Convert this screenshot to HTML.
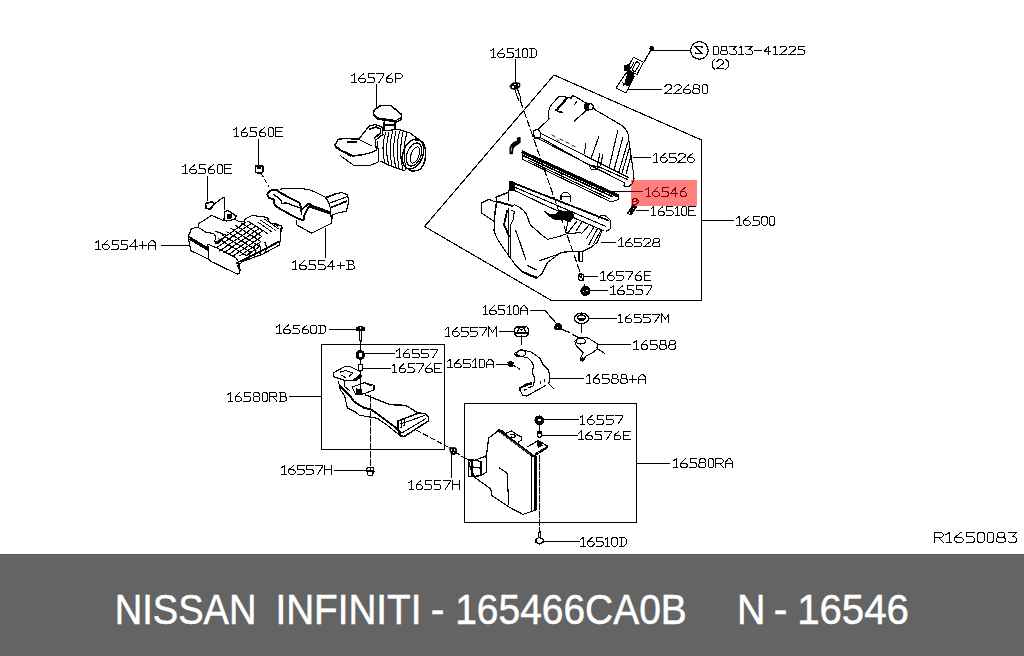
<!DOCTYPE html>
<html><head><meta charset="utf-8"><style>
html,body{margin:0;padding:0;background:#fff;width:1024px;height:656px;overflow:hidden}
svg{position:absolute;left:0;top:0}
#hl{position:absolute;left:631px;top:180px;width:66px;height:26px;background:rgba(255,0,0,0.5)}
  .lb path{vector-effect:non-scaling-stroke}
#bar{position:absolute;left:0;top:554px;width:1024px;height:102px;background:#646464;border-top:1px solid #585858;box-sizing:border-box}
</style></head><body>
<svg width="1024" height="656" viewBox="0 0 1024 656">
<g fill="none" stroke="#000" stroke-width="1.2" shape-rendering="crispEdges">
<path d="M554 75 L701.5 140" stroke-width="1.15"/>
<path d="M424.5 226.5 L554 75" stroke-width="1.15"/>
<path d="M424.5 226.5 L551.5 300.5" stroke-width="1.15"/>
<g shape-rendering="crispEdges" stroke-width="1">
<path d="M701.5 140 V300.5 H551"/>
<rect x="321.5" y="344.5" width="123" height="105"/>
<rect x="464.5" y="403.5" width="172" height="119"/>
<path d="M515.5 59 V84"/>
<path d="M651 50.5 H690"/>
<path d="M627 89.5 H662"/>
<path d="M376.5 84 V108"/>
<path d="M258.5 139 V165"/>
<path d="M207.5 176 V201"/>
<path d="M160.5 245.5 H190"/>
<path d="M325.5 228 V258"/>
<path d="M633 157.5 H651"/>
<path d="M600 191.5 H643"/>
<path d="M636 210.5 H649"/>
<path d="M702 220.5 H734"/>
<path d="M601 242.5 H616"/>
<path d="M583 276.5 H598"/>
<path d="M589 290.5 H608"/>
<path d="M530 310.5 H545"/>
<path d="M588 318.5 H617"/>
<path d="M499 331.5 H515"/>
<path d="M597 344.5 H631"/>
<path d="M496 364.5 H509"/>
<path d="M549 378.5 H584"/>
<path d="M329 329.5 H357"/>
<path d="M364 353.5 H395"/>
<path d="M362 368.5 H391"/>
<path d="M289 396.5 H321"/>
<path d="M543 419.5 H579"/>
<path d="M541 435.5 H578"/>
<path d="M636.5 463.5 H670"/>
<path d="M334 470.5 H366"/>
<path d="M451.5 453 V478"/>
<path d="M543 541.5 H580"/>
</g>
<path d="M545 310.5 L556 323"/>
<circle cx="699.4" cy="50.4" r="8.8" stroke-width="1.2"/>
<path d="M702 48.2 L702 46.8 L695.5 46.8 L702 53.6 L695.5 53.6 L695.5 52.2" stroke-width="1.1"/>

</g>
<g fill="none" stroke="#000" stroke-width="1.1" stroke-linejoin="round" stroke-linecap="round" shape-rendering="crispEdges">
<!-- ===== 22680 MAF sensor ===== -->
<circle cx="651.7" cy="48.3" r="1.8" fill="#000"/>
<path d="M651 50 L644.3 61.5" stroke-width="1.2"/>
<path d="M633.4 57.2 L643.4 62.2 L637 74.6 L627 69.1 Z" stroke-width="1.1"/>
<path d="M636.5 61.5 L640 63.5 L635 72 L632 70 Z M634 62 L630.5 68.5" stroke-width="1"/>
<path d="M626 72.8 L634.3 76.4 L626 92.9 L616 87.9 Z" stroke-width="1.1"/>
<path d="M624 66 L628.5 64.5 L630 68.5 L627.5 71 L624.5 70 Z" fill="#000"/>
<path d="M628.5 71 L634 73.5 L629 86 L624.5 84.5 Z" fill="#000"/>
<path d="M622 82 Q624 83.5 623.5 85.5" stroke-width="1.2"/>
<!-- ===== 16510D top bolt + dashed axis ===== -->
<path d="M510 86 L512 83.3 L515.5 82.3 L519.8 83.2 L519.8 87 L517 88.8 L514 89.6 L511 88.5 Z" fill="#000" stroke-width="0.8"/>
<rect x="512" y="85.5" width="1.6" height="2" fill="#fff" stroke="none"/>
<rect x="513.5" y="83.8" width="2" height="1.2" fill="#fff" stroke="none"/>
<rect x="517.6" y="84.3" width="1.2" height="2" fill="#fff" stroke="none"/>
<path d="M514.8 89.5 L518.6 100.5 M517.6 89 L520.5 97.5 L520.8 100.5" stroke-width="1.2"/>
<path d="M520.5 101 L584.5 285" stroke-dasharray="7 3.2" stroke-width="1.1"/>
<!-- ===== 16526 upper cover ===== -->
<path d="M548.6 118.5 L548.6 111.6 Q549.5 107 551.5 104.5 L558.7 97 L564.4 96.2 L566.5 97.7 L571.5 98 L572.3 95.5 L576.6 97.3 L580.1 99.5 L585.9 103.4" stroke-width="1.15"/>
<path d="M557.2 109.5 L566.5 98.7" stroke-width="2.2"/>
<path d="M556 110 L558 111.5 L562 112.3" stroke-width="1.6"/>
<path d="M577 100.9 L574.6 104.5" stroke-width="1.1"/>
<path d="M584 106 L586 103 L591 103.3 L593.5 106 L592.5 109.5 L587.5 110.2 L584.5 108.5 Z" stroke-width="1.1"/>
<path d="M584.5 104.5 L589 104.5 L588.5 109 L585 108.5 Z" fill="#000"/>
<path d="M593 108 L595 109.5" stroke-width="1.1"/>
<path d="M549.3 118.8 L537.9 129.5" stroke-width="1.15"/>
<path d="M587.3 109.5 L574.4 121" stroke-width="1.15"/>
<path d="M593 108.5 L621.1 125 Q626 128 628 134 L633.9 176.3" stroke-width="1.1"/>
<path d="M540.2 133 L629.1 177.9"/>
<path d="M533.8 136.3 L624.3 182.7"/>
<path d="M533 131 L538 129 L541 133.5 L540 138 L534.5 138 Z"/>
<path d="M541 137.9 L589 165 L598.7 166.7 L627.5 179.5"/>
<path d="M589 165 L591 169 L596 170 L598.7 166.7"/>
<path d="M624.3 182.7 L624 186 L628 187 L632 184 L634 179 L633.9 176.3"/>
<path d="M585.9 143 L584.3 153.8 M598.7 137 L591.5 157 M617.9 130 L609.4 166.6 M622.7 138 L614.2 169.4 M627.5 143 L619 171.6 M629.1 149 L622.2 172.4 M630.7 157 L626 174 M600 153 L597.5 165 M603 154 L600.5 165"/>
<path d="M552 135 L555 136.5 M560 139 L563 140.5 M566 142 L569 143.5 M572 145.5 L575 146.5 M557 140 L559 141" stroke-width="0.9"/>
<!-- clip -->
<path d="M509.8 153.5 L509.6 148 Q510.5 144 515 141.5 L517.5 141.2 L517.2 137.6 L520.3 137.4 L520.5 142.5 L517.5 144.5 Q513 147 512.8 150 L512.6 153.5 Z" fill="#000" stroke-width="0.7"/>
<path d="M511.3 151 L511.6 147.6" stroke="#fff" stroke-width="0.7"/>
<!-- ===== 16546 filter element ===== -->
<path d="M522.1 150.9 L618.4 194.8 L618.4 199.6 L611.1 202 L522.7 159.4 Z"/>
<path d="M522.5 152.5 L617 196" stroke-width="2.4"/>
<path d="M523 155.5 L612 196.5" stroke-width="1.6"/>
<path d="M529 160.5 L610 199" />
<path d="M544 171 L547 168 M560 176 L563 173 M590 190 L593 187 M599 195 L602 192"/>
<!-- ===== 16510E screw ===== -->
<path d="M632.3 199.5 L635.5 198.3 L638.6 200.5 L637.5 203.5 L634 205 L632.3 203.5 Z" stroke-width="1.3"/><path d="M633.5 202 L636.5 201" stroke-width="1"/>
<path d="M633 205 L636.5 207 L631 215 L627.5 213 Z" fill="#000"/>
<rect x="628.6" y="212.3" width="1.4" height="1.4" fill="#fff" stroke="none"/><rect x="632.5" y="207.5" width="1.2" height="1.2" fill="#fff" stroke="none"/>
<!-- ===== 16528 lower box ===== -->
<path d="M509.5 181.2 L514.6 182.5 L514.6 190.8 L509.5 190.8 Z" fill="#000"/>
<path d="M510 181.7 L608.3 220.4" stroke-width="1.8"/>
<path d="M514.6 187.1 L605.9 226.5"/>
<path d="M514.6 190.5 L547.5 206.3 L604 231"/>
<path d="M508.6 190.8 L508.6 200"/>
<path d="M496.1 197.2 L508.4 192.2" stroke-width="1.6"/>
<path d="M497.6 201.6 L512.8 205.9" stroke-width="1.9"/>
<path d="M496.3 197.5 L497 202"/>
<path d="M481.6 203 L488.9 199.4 L496.8 202.3 L494 221.2 L481.6 213.2 Z"/>
<path d="M495.4 204.5 L494 230.6 Q495.5 236 498.3 240.7 L508.4 255.2 L515.7 265.4 L522.9 272.6 L536 278.4 L541.8 274.1 L547.6 262.5 L559.2 253.8 L562 252.1 L582.7 251.5 L591.2 247.2 L597.3 242.3 L602.2 230.1" stroke-width="1.1"/>
<path d="M508.4 208.8 L508.4 256.7 M510.6 224.8 L510.6 257" stroke-width="1.1"/>
<path d="M511.3 210.3 L514.2 211.7 L513.5 219 L510.6 224.8" stroke-width="1.1"/>
<path d="M507 211 L504.1 224.8 L509.2 236.4" stroke-width="1.8"/>
<path d="M514.2 204.5 Q522 208 525.8 213.2 Q528.5 219 530.2 224.8 L541.8 234.9 L547.6 239.3 L559.2 236.4 L566.8 233.8 L580.2 232.6" stroke-width="1.1"/>
<path d="M515.7 230.6 Q521 245 525.8 259.6 M527.3 265.4 L536 269.7" stroke-width="1.1"/>
<path d="M521.5 271.2 L536 277" stroke-width="1.5" stroke-dasharray="1.3 0.9"/>
<path d="M538.9 261 L559.2 253.8" stroke-width="1.1"/>
<path d="M561 199.5 L561 195 L563.5 192.3 L568 192.8 L570.5 195.5 L570.2 201.5 M562 196.5 L569.5 196.5" stroke-width="1.1"/>
<path d="M598.5 218 L601 215.5 L606 216 L610.1 220 L610.1 229 L606 231.3"/>
<path d="M544 211 L550 215 L556 214 L560 210.6 L566 212 L571 211 L574.1 216 L570 221.6 L563 219 L557 220 L552 218 Z" fill="#000"/>
<path d="M568 221.6 L565.6 232.5 M576.6 221.6 L568 232.6 M581.5 223 L576.6 230 M588.8 225.2 L581.5 233.8 M593.7 227.7 L586.4 238.7 M597.3 229 L589 244.5 M601 230.2 L593.7 243.5"/>
<path d="M579 251.5 L579 261.2 L582.7 261.2 L582.7 251.5"/>
<path d="M580.5 273.5 L583.3 275 L583.3 279.5 L580.5 280.7 L578.2 279 L578.2 275 Z" stroke-width="1.1"/><path d="M578.5 275.5 L581 277.5" stroke-width="1.5"/>
<circle cx="585.3" cy="291" r="4.5" fill="#000"/>
<rect x="583" y="290.5" width="1.2" height="1.6" fill="#fff" stroke="none"/><rect x="586.2" y="290" width="1.4" height="1.2" fill="#fff" stroke="none"/>
<!-- ===== 16576P duct ===== -->
<path d="M374 110.1 L381.1 105.3 L390.6 105.3 L401.3 114.3 L401.3 119.6 L396.6 122 L377.6 119 L373.4 114.3 Z" stroke-width="1.5"/>
<path d="M374.5 115 L378.5 118 L396 120.5 L400.5 118" stroke-width="1.2"/>
<path d="M384.1 122 L384.1 129.5 M394.8 122 L394.8 129.5 M385 124.8 L394 124.8" stroke-width="1.4"/>
<path d="M334.8 145.2 L338.3 139.2 L345.5 138.6 L358.5 139.2 L369.2 126.2 L375.2 124.4 L382.3 127.3 L382.9 134.5 L375.2 140.4 L376.4 149.9 L371.6 152.3 L363.3 154.7 L350.2 155.9 L340.7 149.9 Z" stroke-width="1.3"/>
<path d="M370 129 L376 127 L380.5 129 L380.5 133 L374.5 138" stroke-width="1.6"/>
<path d="M358.5 139.2 L372 146 M347 142 L357 142" stroke-width="1.1"/>
<path d="M335.5 147 L341 150.5 L354 156.5" stroke-width="2"/>
<path d="M340.7 155.9 L353.8 165.4 L370.4 165.4 L378.7 161.8" stroke-width="1.1"/>
<path d="M377 141 Q379 152 378.7 161.8" stroke-width="1.1"/>
<!-- bellows -->
<path d="M382.5 131 L392 130 L399 129.5 L410 133 L419 139.5" stroke-width="1.2"/>
<path d="M380 161 L392 166.5 L404 170.5" stroke-width="1.2"/>
<path d="M385.5 133 Q381 148 384.5 162 M389 132 Q384.5 148 388.5 164 M392.5 131.5 Q388 148 392 165.5 M396 131 Q391.5 148 395.5 166.5 M399.5 131.5 Q395 148 399 167.5 M403 132.5 Q398.5 149 402.5 168.5 M406.5 134 Q402 150 406 169.5" stroke-width="1.05"/>
<ellipse cx="413" cy="154" rx="10" ry="15.5" transform="rotate(20 413 154)" stroke-width="1.5"/>
<ellipse cx="414" cy="154.5" rx="7" ry="12" transform="rotate(20 414 154.5)" stroke-width="1.2"/>
<ellipse cx="415" cy="155" rx="4" ry="8.5" transform="rotate(20 415 155)" stroke-width="1"/>
<path d="M416 140 Q424 139 425.5 150 Q426.5 163 420.5 169 Q415.5 172 410 170.5" stroke-width="1.4"/>
<!-- ===== 16560E bolts ===== -->
<path d="M255.5 166 L262.8 166 L262.8 172 L259 173.5 L255.5 172 Z" fill="#fff" stroke-width="1.6"/>
<path d="M257.5 168 L261 168" />
<path d="M261 173.3 L268.9 186.7" stroke-dasharray="4 3"/>
<path d="M205.6 203.5 L212 201.7 L214.5 204 L210 209.2 L206 208 Z" stroke-width="1.6"/>
<path d="M214.5 203.7 L224.1 196.9 L224.8 209.2"/>
<!-- ===== 16554+B ===== -->
<path d="M268.9 192.1 L272.2 189.6 L277.2 190.4 L280.5 192.9 L295.3 200.7 L299.4 202.8 L301.9 209.3 L307.6 204.4 L310.1 203.6" stroke-width="1.9"/>
<path d="M268.9 192.1 L267.3 194.5 L268.9 197.8 L273.9 199.5 L274.7 205.2 L280.5 209.3 L296.1 217.6 L299.4 219.2 L303.5 220 L304.3 215.1 L308.4 207.7 L310.1 206" stroke-width="1.9"/>
<path d="M273.9 194.5 L280.5 199.5 L282.1 203.6 L286.2 202.8 L296.9 206.9 L300.2 207.7 L301.9 214.3" stroke-width="1.3"/>
<path d="M280.5 189.6 Q282 188.3 285.4 188.3 L300.2 188.3 L310.1 190 Q318 193 324.9 197 Q328 200 329 203.6 Q330.5 207 330.7 211.8 L331.5 222.5" stroke-width="1.1"/>
<path d="M325.7 197.8 L336 193.7" stroke-width="1.8"/>
<path d="M310.1 204.6 L329.8 211.8 M310.1 207.1 L329.8 213.7" stroke-width="1.2"/>
<path d="M311 205.8 L329 212.7" stroke-width="1.4" stroke-dasharray="1.3 1"/>
<path d="M296.9 220 L296.9 225 L311.7 233.2 L331.5 223.3 L332.3 215.1 L336 213.5"/>
<path d="M336 193.7 L342 192.5 L347.6 195 L348.8 201.3 L346.3 211.1 L336 213.5 M330 203 L347.5 196.5" stroke-width="1.1"/>
<path d="M331 207.5 L347 201" stroke-width="1.7" stroke-dasharray="1.3 0.9"/>
<!-- ===== 16554+A ===== -->
<path d="M224 220.5 L224.5 212 L228 210.5 L236.2 216 L234.5 219.5 L226 221" stroke-width="1.3"/>
<path d="M227.5 215 L231.5 214.5 L231 218 L228 218.5 Z" fill="#000"/>
<path d="M198.3 227 L198.3 223.9 L211.6 215.3 L222.3 220.1 L226 221 L235 219.5 L238 221 L244 222 L245.4 218.8 L252.3 215.4 L267.3 217.4 L270.1 222.9 L281.1 225.7 L282.4 228.4 L281 231 L279.7 244.9 L261.9 254.5 L242.6 261.4 L239.9 264.1" stroke-width="1.1"/>
<path d="M268 218.5 L269 221.5 M276 223.5 L277.5 226.5 M281.5 228 L280.5 231" stroke-width="1.6"/>
<path d="M189.2 234.6 L191.3 228.7 L197.7 227.1 L206.3 232.4 L213.8 233.5 L215.9 236.7 L214.8 241" stroke-width="1.1"/>
<path d="M188.7 236.5 L207.4 247.8 M188.7 238.8 L207.4 250" stroke-width="1.3"/>
<path d="M189.5 237.6 L207 249" stroke-width="1.4" stroke-dasharray="1.2 0.9"/>
<path d="M188.7 234.6 L188.7 240 L190.8 250.6 L208.4 259.1" stroke-width="1.1"/>
<path d="M207.9 244.2 L208.4 259.1 L210.6 261.2 L237.2 274.1 L239.4 273 L238.8 262.3 L236.2 258 L218 248.4 L207.9 244.2" stroke-width="1.1"/>
<path d="M237 263 L239.5 264 M238 266 L240 270" stroke-width="1.6"/>
<path d="M214.8 241 L218 244 L226.2 235.3 L215.9 231.4" stroke-width="1.2"/>
<clipPath id="gclip"><path d="M214 242 L233 226 L246 221 L257 222 L263 231 L259 249 L247 256 L232 256 L218 251 Z"/></clipPath>
<g stroke-width="1.15" clip-path="url(#gclip)">
<path d="M212 246 L246 222 M215.5 248.5 L251 223.5 M219.5 251 L256 226 M223.5 253 L260 228 M228 255 L264 230 M232.5 256.5 L267 233 M237.5 257.5 L270 235.5 M243 258 L272 238 M248.5 258 L274 241"/>
<path d="M214 236 L252 259 M219 233 L257 256 M224 230 L261 253 M229.5 227.5 L265 250 M235 225 L268 246 M241 222.5 L270 242 M247 220.5 L272 237 M253 219.5 L273 232"/>
</g>
<path d="M258 222 L272 232 M261 220.5 L276 230.5 M265 219.5 L279 229 M255 225 L268 234" stroke-width="1" stroke-dasharray="1.2 1"/>
<path d="M216 243 L222 239" stroke-width="2.2"/>
<path d="M240 261.5 L279.5 241.5" stroke-width="1.9" stroke-dasharray="1.3 0.8"/>
<path d="M248.5 250 Q251 255 249 258.5 M254 247.5 Q256.5 252.5 254.5 256 M259.5 245 Q262 250 260 253.5 M265 242.5 Q267.5 247.5 265.5 251" stroke-width="1.3"/>
<!-- ===== 16560D bolt, nut, grommet (left box) ===== -->
<path d="M356.4 327.5 Q360 325.5 365 327.5 L364 330.5 L357 330.5 Z" fill="#000" stroke-width="1"/>
<circle cx="360.5" cy="328.3" r="1" fill="#fff" stroke="none"/>
<path d="M359.3 331 L359.3 341 M361.5 331 L361.5 341"/>
<path d="M360.4 341 L360.4 350"/>
<circle cx="360.3" cy="355" r="4.3" fill="#000"/>
<rect x="358.5" y="353.3" width="3.6" height="3.4" fill="#fff" stroke="none"/>
<path d="M360.3 359.5 L360.3 364"/>
<rect x="358.3" y="364.2" width="3.9" height="6.3" stroke-width="1.2"/>
<path d="M360.3 370.5 L360.3 389"/>
<!-- ===== 16580RB duct ===== -->
<path d="M333.2 373 L344.8 366.5 L350 366.5 L360.4 371.7 L361 376.8 L355.9 380.7 L343.5 380.1 L333.8 376.8 Z" stroke-width="1.2"/>
<path d="M340.5 372 L345.5 370.5 L353 373 L349.5 376 M342 375.5 L345 377.5" stroke-width="1.1"/>
<path d="M352.5 380.5 L361 376 M355 379 L360.5 374.5" stroke-width="1.6"/>
<path d="M338.4 381.4 L340.3 389.8 L344.5 395.5 L347.4 408 L355.2 411.8 L359.1 415.1 L369.5 417 L377.2 418.3 L385 423.5 L398 433.9 L403.1 436.4" stroke-width="1.1"/>
<path d="M339.7 385.9 L351.3 397.6 L353.9 401.5 L364.3 408 L370.8 409.2 L379.8 415.7 L395.4 427.4 L400.6 432.6" stroke-width="1.9"/>
<path d="M344 380.8 L344 386 L350 391" stroke-width="1"/>
<path d="M352 387.2 L364.3 382.7 L374 385.3 L374 389.8 L364.3 393.7 L355.9 395 Z" stroke-width="1.1"/>
<path d="M356 387.5 L356 394 M367 384 L372 386" stroke-width="1"/>
<circle cx="359.5" cy="391.5" r="2.2" fill="#000"/>
<path d="M365.6 395 L390.2 404.7 L405.7 405.3 L416.1 411.8 L419 413.5" stroke-width="1.3"/>
<path d="M398 420.9 L418.7 413.1 L425 413.5 L428.4 416.5 L428.4 420.9 L404.4 436.4 L400.5 436 L398.5 432 Z" stroke-width="1.5"/>
<path d="M400.5 424 L424.5 415.5 M402 433 L426 418.5" stroke-width="1"/>
<path d="M398.5 421.5 L397.5 428.5 M401.5 419.5 L401 428 M404.5 418.5 L404 426" stroke-width="1.1"/>
<path d="M370.5 396 L370.5 466" stroke-dasharray="5 3"/>
<path d="M416 430 L447 446.5" stroke-dasharray="5 3"/>
<!-- 16557H nut left -->
<path d="M366.6 471 L366.6 469 L368 467.5 L373.5 467.5 L373.5 471 M367.2 471.2 L367.6 474.6 L368.8 475.6 L371.8 475.6 L372.8 474.6 L373.2 471.2" stroke-width="1.2"/><path d="M366.5 471.2 H373.8" stroke-width="1.8"/><path d="M370.4 467.5 V470" stroke-width="1"/>
<!-- 16557H bolt right -->
<path d="M449.5 447.5 L455 447.5 L456.5 448.7 L456.5 452.5 L454.5 454.5 L451.5 454.5 L450 451 Z" fill="#000" stroke-width="0.8"/><rect x="450.6" y="448.5" width="1.8" height="2.2" fill="#fff" stroke="none"/><rect x="453.8" y="449" width="1.6" height="1.6" fill="#fff" stroke="none"/><rect x="452.6" y="452" width="1.4" height="1.4" fill="#fff" stroke="none"/>
<path d="M456.5 453 L459.5 454.5" stroke-width="1.1"/><path d="M461 456 L471 461" stroke-dasharray="3 2"/>
<!-- ===== 16580RA resonator ===== -->
<path d="M486.4 455.8 L488.6 438.1 L496.2 432.3 L498.9 429.6 L503 431 L505.8 434.4" stroke-width="1.2"/>
<path d="M499 430.5 L532.5 455.7" stroke-width="2.8"/>
<path d="M500 432.5 L531 455" stroke="#fff" stroke-width="0.6" stroke-dasharray="1 2"/>
<path d="M506.5 433 L511.3 431 L514 432.7 L518.8 435.8 L521.5 436.5 L521.5 439.9 L518.8 442" stroke-width="1.2"/>
<path d="M510 435 L513 434 L516 436 L513.5 437.5 L511 436.8" stroke-width="1.1"/>
<path d="M527.7 446.7 L538 440.6 L547.6 446.1 L546.9 448.1 L534.6 455.7" stroke-width="1.2"/>
<path d="M535 454 L546.5 447" stroke-width="1" />
<path d="M537 443 L541 442.6 L542 445.5 L538.5 447 Z" fill="#000"/>
<path d="M531.8 455 L531.8 511 M534.6 455.7 L534.6 510.5" stroke-width="1.3"/>
<path d="M532.5 455.7 L536 456 L536 510 L522.9 514.4 L508.5 506.7 L491.9 495.6 L490.8 489 L475.4 477.9 L471 470 L468.7 462.5 L486.4 455.8" stroke-width="1.2"/>
<path d="M499.7 468 L507.4 473.5 L508.5 504.4"/>
<path d="M468.7 459.1 L480.9 461.4 L480.9 475.7 L468.7 476.8 Z M469 466.5 L480 468 M472 460 L472 476" stroke-width="1.2"/>
<path d="M486 456 L486.5 472 L481 475.7"/>
<circle cx="539.4" cy="420.3" r="4.4" fill="#000"/>
<rect x="537.5" y="419.3" width="3.8" height="1.6" fill="#fff" stroke="none"/>
<path d="M539.5 424 L539.5 431"/>
<path d="M537.6 432 L541.2 432 L541.2 436 L539.4 437.8 L537.6 436 Z" stroke-width="1.2"/><path d="M537.8 433 L541 433" stroke-width="1.8"/>
<path d="M539.4 456 L539.4 532" stroke-dasharray="5 3"/>
<path d="M538.3 532 L538.3 538 M540.6 532 L540.6 538"/>
<path d="M536 539 L539.5 537.3 L543.5 539.5 L543 542.5 L539.5 544 L536 542.5 Z" stroke-width="1.3"/>
<!-- ===== brackets ===== -->
<path d="M555.1 325 L558 323.1 L561.6 325.5 L561 329.5 L557 330 L555 328.5 Z" fill="#000"/>
<rect x="556.5" y="327" width="1.6" height="1.4" fill="#fff" stroke="none"/>
<path d="M560.5 329 L566 331 L569 332.4" stroke-width="1.3"/>
<path d="M572 334.2 L579.5 338" stroke-width="1.1"/>
<ellipse cx="581.5" cy="318.3" rx="7.1" ry="5.2" stroke-width="1.3"/>
<path d="M574.8 319.5 Q576 323.5 581.5 323.8 Q587 323.5 588.2 319.5" stroke-width="1.1"/>
<ellipse cx="581.5" cy="317.6" rx="4" ry="2.6" stroke-width="1.3"/>
<path d="M578.5 319 L584.5 319" stroke-width="1.4"/>
<path d="M581.5 324 L581.5 332"/>
<ellipse cx="580.8" cy="341.2" rx="4.5" ry="2.8"/>
<path d="M574.7 341.2 L579.3 337.4 L588.4 338.1 L597.6 344.2 L597.6 348.8 L591.5 353.4 L585.4 356.4 L583.9 360.2 L581.6 360.5 L580.8 357.2 L583.1 352.6 L576.2 345.7 Z" stroke-width="1.1"/>
<circle cx="582.3" cy="359.5" r="1.6" fill="#000"/>
<path d="M597.6 348.8 L604.5 353.4 M596 348 L598 347" />
<path d="M517 326.5 H526 Q528.5 327 528.5 331 Q528.5 335.5 526 336.5 H517 Q514.5 335.5 514.5 331 Q514.5 327 517 326.5 Z" stroke-width="1.2"/>
<path d="M517.5 331.5 L519 328.5 L521.5 330 L524 328.5 L525.5 331.5 M515.5 333 L527.5 333 M517 327.8 H526" stroke-width="1.2"/>
<path d="M521.3 335.5 L521.3 345"/>
<ellipse cx="521.3" cy="353.4" rx="4.5" ry="2.8"/>
<path d="M514.5 353.4 L521.3 349.6 L530.5 351.8 L539.6 357.9 L542.7 364 L548.8 370.1 L549.6 377.8 L548.8 383.9 L553.4 388.4"/>
<path d="M514.5 353.4 Q516 358 522 356.5 L528 358 Q533 362 533.5 367 L532 372 L535 379 L533 386 L528 388"/>
<path d="M519.8 390 L522.9 395.3 L526.7 396.1 L545.7 385.4 M519.8 390 Q521 386 528 383 L532 385"/>
<path d="M520 388 L531 383" stroke-width="2"/>
<path d="M524 391 Q525 389 527 390"/>
<path d="M508 362.5 L511 360.8 L513.3 363 L512.5 366 L509 366 Z" fill="#000" stroke-width="1"/>
<path d="M513 365 L521.3 370.1" stroke-dasharray="3 2"/>
<path d="M540 381 L541 384 M544 379 L545 382" />

</g>
<g class="lb" shape-rendering="crispEdges" fill="none" stroke="#000" stroke-width="1" stroke-linejoin="miter" stroke-linecap="square">
<g transform="translate(491.00 48.80) scale(1.0407 0.9667)"><path transform="translate(0.00 0)" d="M0 2 L2.6 0 V9 M0 9 H4.2"/><path transform="translate(6.40 0)" d="M4.8 0 L0.3 4.4 V7.6 L1.7 9 H5.1 L6.5 7.6 V6 L5 4.5 H0.5"/><path transform="translate(15.10 0)" d="M6.3 0 H0.4 V4 H5.1 L6.5 5.4 V7.7 L5.2 9 H0"/><path transform="translate(23.80 0)" d="M0 2 L2.6 0 V9 M0 9 H4.2"/><path transform="translate(30.20 0)" d="M1.1 0 H3.9 L5 1.3 V7.7 L3.9 9 H1.1 L0 7.7 V1.3 Z"/><path transform="translate(37.40 0)" d="M0 0 H4.6 L6.8 2.2 V6.8 L4.6 9 H0 M1.8 0 V9"/></g>
<g transform="translate(713.30 46.10) scale(1.0434 0.9667)"><path transform="translate(0.00 0)" d="M1.1 0 H3.9 L5 1.3 V7.7 L3.9 9 H1.1 L0 7.7 V1.3 Z"/><path transform="translate(7.20 0)" d="M1.6 0 H4.9 L5.9 1 V3.3 L4.9 4.3 H1.6 L0.6 3.3 V1 Z M1.1 4.3 H5.3 L6.5 5.5 V7.8 L5.3 9 H1.1 L0 7.8 V5.5 Z"/><path transform="translate(15.90 0)" d="M0 0 H6.3 L2.8 4 H5 L6.5 5.5 V7.7 L5.2 9 H1.2 L0 7.8"/><path transform="translate(24.60 0)" d="M0 2 L2.6 0 V9 M0 9 H4.2"/><path transform="translate(31.00 0)" d="M0 0 H6.3 L2.8 4 H5 L6.5 5.5 V7.7 L5.2 9 H1.2 L0 7.8"/><path transform="translate(39.70 0)" d="M0 4.5 H6.6"/><path transform="translate(48.50 0)" d="M4.6 9 V0 L0 6 H6.6"/><path transform="translate(57.30 0)" d="M0 2 L2.6 0 V9 M0 9 H4.2"/><path transform="translate(63.70 0)" d="M0 2 L1.6 0 H4.9 L6.5 1.6 V3.2 L0 9 H6.5"/><path transform="translate(72.40 0)" d="M0 2 L1.6 0 H4.9 L6.5 1.6 V3.2 L0 9 H6.5"/><path transform="translate(81.10 0)" d="M6.3 0 H0.4 V4 H5.1 L6.5 5.4 V7.7 L5.2 9 H0"/></g>
<g transform="translate(664.90 84.80) scale(1.0704 0.9667)"><path transform="translate(0.00 0)" d="M0 2 L1.6 0 H4.9 L6.5 1.6 V3.2 L0 9 H6.5"/><path transform="translate(8.70 0)" d="M0 2 L1.6 0 H4.9 L6.5 1.6 V3.2 L0 9 H6.5"/><path transform="translate(17.40 0)" d="M4.8 0 L0.3 4.4 V7.6 L1.7 9 H5.1 L6.5 7.6 V6 L5 4.5 H0.5"/><path transform="translate(26.10 0)" d="M1.6 0 H4.9 L5.9 1 V3.3 L4.9 4.3 H1.6 L0.6 3.3 V1 Z M1.1 4.3 H5.3 L6.5 5.5 V7.8 L5.3 9 H1.1 L0 7.8 V5.5 Z"/><path transform="translate(34.80 0)" d="M1.1 0 H3.9 L5 1.3 V7.7 L3.9 9 H1.1 L0 7.7 V1.3 Z"/></g>
<g transform="translate(351.80 73.80) scale(1.0542 0.9667)"><path transform="translate(0.00 0)" d="M0 2 L2.6 0 V9 M0 9 H4.2"/><path transform="translate(6.40 0)" d="M4.8 0 L0.3 4.4 V7.6 L1.7 9 H5.1 L6.5 7.6 V6 L5 4.5 H0.5"/><path transform="translate(15.10 0)" d="M6.3 0 H0.4 V4 H5.1 L6.5 5.4 V7.7 L5.2 9 H0"/><path transform="translate(23.80 0)" d="M0 0 H6.5 V1.2 L2 9"/><path transform="translate(32.50 0)" d="M4.8 0 L0.3 4.4 V7.6 L1.7 9 H5.1 L6.5 7.6 V6 L5 4.5 H0.5"/><path transform="translate(41.20 0)" d="M0 9 V0 H5.4 L6.8 1.4 V3.2 L5.4 4.6 H0"/></g>
<g transform="translate(234.00 127.80) scale(1.0541 0.9667)"><path transform="translate(0.00 0)" d="M0 2 L2.6 0 V9 M0 9 H4.2"/><path transform="translate(6.40 0)" d="M4.8 0 L0.3 4.4 V7.6 L1.7 9 H5.1 L6.5 7.6 V6 L5 4.5 H0.5"/><path transform="translate(15.10 0)" d="M6.3 0 H0.4 V4 H5.1 L6.5 5.4 V7.7 L5.2 9 H0"/><path transform="translate(23.80 0)" d="M4.8 0 L0.3 4.4 V7.6 L1.7 9 H5.1 L6.5 7.6 V6 L5 4.5 H0.5"/><path transform="translate(32.50 0)" d="M1.1 0 H3.9 L5 1.3 V7.7 L3.9 9 H1.1 L0 7.7 V1.3 Z"/><path transform="translate(39.70 0)" d="M6.5 0 H0 V9 H6.5 M0 4.3 H5"/></g>
<g transform="translate(182.90 164.80) scale(1.0563 0.9667)"><path transform="translate(0.00 0)" d="M0 2 L2.6 0 V9 M0 9 H4.2"/><path transform="translate(6.40 0)" d="M4.8 0 L0.3 4.4 V7.6 L1.7 9 H5.1 L6.5 7.6 V6 L5 4.5 H0.5"/><path transform="translate(15.10 0)" d="M6.3 0 H0.4 V4 H5.1 L6.5 5.4 V7.7 L5.2 9 H0"/><path transform="translate(23.80 0)" d="M4.8 0 L0.3 4.4 V7.6 L1.7 9 H5.1 L6.5 7.6 V6 L5 4.5 H0.5"/><path transform="translate(32.50 0)" d="M1.1 0 H3.9 L5 1.3 V7.7 L3.9 9 H1.1 L0 7.7 V1.3 Z"/><path transform="translate(39.70 0)" d="M6.5 0 H0 V9 H6.5 M0 4.3 H5"/></g>
<g transform="translate(95.80 240.50) scale(1.0581 0.9667)"><path transform="translate(0.00 0)" d="M0 2 L2.6 0 V9 M0 9 H4.2"/><path transform="translate(6.40 0)" d="M4.8 0 L0.3 4.4 V7.6 L1.7 9 H5.1 L6.5 7.6 V6 L5 4.5 H0.5"/><path transform="translate(15.10 0)" d="M6.3 0 H0.4 V4 H5.1 L6.5 5.4 V7.7 L5.2 9 H0"/><path transform="translate(23.80 0)" d="M6.3 0 H0.4 V4 H5.1 L6.5 5.4 V7.7 L5.2 9 H0"/><path transform="translate(32.50 0)" d="M4.6 9 V0 L0 6 H6.6"/><path transform="translate(41.30 0)" d="M3.25 1.5 V8 M0 4.7 H6.5"/><path transform="translate(50.00 0)" d="M0 9 V3.2 L2.6 0 H4.2 L6.8 3.2 V9 M0 5.2 H6.8"/></g>
<g transform="translate(292.30 260.80) scale(1.0863 0.9667)"><path transform="translate(0.00 0)" d="M0 2 L2.6 0 V9 M0 9 H4.2"/><path transform="translate(6.40 0)" d="M4.8 0 L0.3 4.4 V7.6 L1.7 9 H5.1 L6.5 7.6 V6 L5 4.5 H0.5"/><path transform="translate(15.10 0)" d="M6.3 0 H0.4 V4 H5.1 L6.5 5.4 V7.7 L5.2 9 H0"/><path transform="translate(23.80 0)" d="M6.3 0 H0.4 V4 H5.1 L6.5 5.4 V7.7 L5.2 9 H0"/><path transform="translate(32.50 0)" d="M4.6 9 V0 L0 6 H6.6"/><path transform="translate(41.30 0)" d="M3.25 1.5 V8 M0 4.7 H6.5"/><path transform="translate(50.00 0)" d="M0 0 H5.1 L6.1 1 V3.3 L5.1 4.3 H1.6 M1.6 4.3 H5.6 L6.8 5.5 V7.8 L5.6 9 H0 M1.6 0 V9"/></g>
<g transform="translate(653.60 153.30) scale(1.0436 0.9667)"><path transform="translate(0.00 0)" d="M0 2 L2.6 0 V9 M0 9 H4.2"/><path transform="translate(6.40 0)" d="M4.8 0 L0.3 4.4 V7.6 L1.7 9 H5.1 L6.5 7.6 V6 L5 4.5 H0.5"/><path transform="translate(15.10 0)" d="M6.3 0 H0.4 V4 H5.1 L6.5 5.4 V7.7 L5.2 9 H0"/><path transform="translate(23.80 0)" d="M0 2 L1.6 0 H4.9 L6.5 1.6 V3.2 L0 9 H6.5"/><path transform="translate(32.50 0)" d="M4.8 0 L0.3 4.4 V7.6 L1.7 9 H5.1 L6.5 7.6 V6 L5 4.5 H0.5"/></g>
<g transform="translate(646.00 187.60) scale(1.0409 0.9667)"><path transform="translate(0.00 0)" d="M0 2 L2.6 0 V9 M0 9 H4.2"/><path transform="translate(6.40 0)" d="M4.8 0 L0.3 4.4 V7.6 L1.7 9 H5.1 L6.5 7.6 V6 L5 4.5 H0.5"/><path transform="translate(15.10 0)" d="M6.3 0 H0.4 V4 H5.1 L6.5 5.4 V7.7 L5.2 9 H0"/><path transform="translate(23.80 0)" d="M4.6 9 V0 L0 6 H6.6"/><path transform="translate(32.60 0)" d="M4.8 0 L0.3 4.4 V7.6 L1.7 9 H5.1 L6.5 7.6 V6 L5 4.5 H0.5"/></g>
<g transform="translate(651.30 206.80) scale(1.0068 0.9667)"><path transform="translate(0.00 0)" d="M0 2 L2.6 0 V9 M0 9 H4.2"/><path transform="translate(6.40 0)" d="M4.8 0 L0.3 4.4 V7.6 L1.7 9 H5.1 L6.5 7.6 V6 L5 4.5 H0.5"/><path transform="translate(15.10 0)" d="M6.3 0 H0.4 V4 H5.1 L6.5 5.4 V7.7 L5.2 9 H0"/><path transform="translate(23.80 0)" d="M0 2 L2.6 0 V9 M0 9 H4.2"/><path transform="translate(30.20 0)" d="M1.1 0 H3.9 L5 1.3 V7.7 L3.9 9 H1.1 L0 7.7 V1.3 Z"/><path transform="translate(37.40 0)" d="M6.5 0 H0 V9 H6.5 M0 4.3 H5"/></g>
<g transform="translate(736.70 216.40) scale(1.0556 0.9667)"><path transform="translate(0.00 0)" d="M0 2 L2.6 0 V9 M0 9 H4.2"/><path transform="translate(6.40 0)" d="M4.8 0 L0.3 4.4 V7.6 L1.7 9 H5.1 L6.5 7.6 V6 L5 4.5 H0.5"/><path transform="translate(15.10 0)" d="M6.3 0 H0.4 V4 H5.1 L6.5 5.4 V7.7 L5.2 9 H0"/><path transform="translate(23.80 0)" d="M1.1 0 H3.9 L5 1.3 V7.7 L3.9 9 H1.1 L0 7.7 V1.3 Z"/><path transform="translate(31.00 0)" d="M1.1 0 H3.9 L5 1.3 V7.7 L3.9 9 H1.1 L0 7.7 V1.3 Z"/></g>
<g transform="translate(618.60 238.20) scale(1.0564 0.9667)"><path transform="translate(0.00 0)" d="M0 2 L2.6 0 V9 M0 9 H4.2"/><path transform="translate(6.40 0)" d="M4.8 0 L0.3 4.4 V7.6 L1.7 9 H5.1 L6.5 7.6 V6 L5 4.5 H0.5"/><path transform="translate(15.10 0)" d="M6.3 0 H0.4 V4 H5.1 L6.5 5.4 V7.7 L5.2 9 H0"/><path transform="translate(23.80 0)" d="M0 2 L1.6 0 H4.9 L6.5 1.6 V3.2 L0 9 H6.5"/><path transform="translate(32.50 0)" d="M1.6 0 H4.9 L5.9 1 V3.3 L4.9 4.3 H1.6 L0.6 3.3 V1 Z M1.1 4.3 H5.3 L6.5 5.5 V7.8 L5.3 9 H1.1 L0 7.8 V5.5 Z"/></g>
<g transform="translate(600.60 271.40) scale(1.0545 0.9667)"><path transform="translate(0.00 0)" d="M0 2 L2.6 0 V9 M0 9 H4.2"/><path transform="translate(6.40 0)" d="M4.8 0 L0.3 4.4 V7.6 L1.7 9 H5.1 L6.5 7.6 V6 L5 4.5 H0.5"/><path transform="translate(15.10 0)" d="M6.3 0 H0.4 V4 H5.1 L6.5 5.4 V7.7 L5.2 9 H0"/><path transform="translate(23.80 0)" d="M0 0 H6.5 V1.2 L2 9"/><path transform="translate(32.50 0)" d="M4.8 0 L0.3 4.4 V7.6 L1.7 9 H5.1 L6.5 7.6 V6 L5 4.5 H0.5"/><path transform="translate(41.20 0)" d="M6.5 0 H0 V9 H6.5 M0 4.3 H5"/></g>
<g transform="translate(610.80 285.90) scale(1.0487 0.9667)"><path transform="translate(0.00 0)" d="M0 2 L2.6 0 V9 M0 9 H4.2"/><path transform="translate(6.40 0)" d="M4.8 0 L0.3 4.4 V7.6 L1.7 9 H5.1 L6.5 7.6 V6 L5 4.5 H0.5"/><path transform="translate(15.10 0)" d="M6.3 0 H0.4 V4 H5.1 L6.5 5.4 V7.7 L5.2 9 H0"/><path transform="translate(23.80 0)" d="M6.3 0 H0.4 V4 H5.1 L6.5 5.4 V7.7 L5.2 9 H0"/><path transform="translate(32.50 0)" d="M0 0 H6.5 V1.2 L2 9"/></g>
<g transform="translate(483.20 305.90) scale(1.0000 0.9667)"><path transform="translate(0.00 0)" d="M0 2 L2.6 0 V9 M0 9 H4.2"/><path transform="translate(6.40 0)" d="M4.8 0 L0.3 4.4 V7.6 L1.7 9 H5.1 L6.5 7.6 V6 L5 4.5 H0.5"/><path transform="translate(15.10 0)" d="M6.3 0 H0.4 V4 H5.1 L6.5 5.4 V7.7 L5.2 9 H0"/><path transform="translate(23.80 0)" d="M0 2 L2.6 0 V9 M0 9 H4.2"/><path transform="translate(30.20 0)" d="M1.1 0 H3.9 L5 1.3 V7.7 L3.9 9 H1.1 L0 7.7 V1.3 Z"/><path transform="translate(37.40 0)" d="M0 9 V3.2 L2.6 0 H4.2 L6.8 3.2 V9 M0 5.2 H6.8"/></g>
<g transform="translate(618.20 314.00) scale(1.0583 0.9667)"><path transform="translate(0.00 0)" d="M0 2 L2.6 0 V9 M0 9 H4.2"/><path transform="translate(6.40 0)" d="M4.8 0 L0.3 4.4 V7.6 L1.7 9 H5.1 L6.5 7.6 V6 L5 4.5 H0.5"/><path transform="translate(15.10 0)" d="M6.3 0 H0.4 V4 H5.1 L6.5 5.4 V7.7 L5.2 9 H0"/><path transform="translate(23.80 0)" d="M6.3 0 H0.4 V4 H5.1 L6.5 5.4 V7.7 L5.2 9 H0"/><path transform="translate(32.50 0)" d="M0 0 H6.5 V1.2 L2 9"/><path transform="translate(41.20 0)" d="M0 9 V0 L3.4 5.2 L6.8 0 V9"/></g>
<g transform="translate(445.40 327.40) scale(1.0563 0.9667)"><path transform="translate(0.00 0)" d="M0 2 L2.6 0 V9 M0 9 H4.2"/><path transform="translate(6.40 0)" d="M4.8 0 L0.3 4.4 V7.6 L1.7 9 H5.1 L6.5 7.6 V6 L5 4.5 H0.5"/><path transform="translate(15.10 0)" d="M6.3 0 H0.4 V4 H5.1 L6.5 5.4 V7.7 L5.2 9 H0"/><path transform="translate(23.80 0)" d="M6.3 0 H0.4 V4 H5.1 L6.5 5.4 V7.7 L5.2 9 H0"/><path transform="translate(32.50 0)" d="M0 0 H6.5 V1.2 L2 9"/><path transform="translate(41.20 0)" d="M0 9 V0 L3.4 5.2 L6.8 0 V9"/></g>
<g transform="translate(633.90 340.40) scale(1.0744 0.9667)"><path transform="translate(0.00 0)" d="M0 2 L2.6 0 V9 M0 9 H4.2"/><path transform="translate(6.40 0)" d="M4.8 0 L0.3 4.4 V7.6 L1.7 9 H5.1 L6.5 7.6 V6 L5 4.5 H0.5"/><path transform="translate(15.10 0)" d="M6.3 0 H0.4 V4 H5.1 L6.5 5.4 V7.7 L5.2 9 H0"/><path transform="translate(23.80 0)" d="M1.6 0 H4.9 L5.9 1 V3.3 L4.9 4.3 H1.6 L0.6 3.3 V1 Z M1.1 4.3 H5.3 L6.5 5.5 V7.8 L5.3 9 H1.1 L0 7.8 V5.5 Z"/><path transform="translate(32.50 0)" d="M1.6 0 H4.9 L5.9 1 V3.3 L4.9 4.3 H1.6 L0.6 3.3 V1 Z M1.1 4.3 H5.3 L6.5 5.5 V7.8 L5.3 9 H1.1 L0 7.8 V5.5 Z"/></g>
<g transform="translate(447.80 359.20) scale(1.0385 0.9667)"><path transform="translate(0.00 0)" d="M0 2 L2.6 0 V9 M0 9 H4.2"/><path transform="translate(6.40 0)" d="M4.8 0 L0.3 4.4 V7.6 L1.7 9 H5.1 L6.5 7.6 V6 L5 4.5 H0.5"/><path transform="translate(15.10 0)" d="M6.3 0 H0.4 V4 H5.1 L6.5 5.4 V7.7 L5.2 9 H0"/><path transform="translate(23.80 0)" d="M0 2 L2.6 0 V9 M0 9 H4.2"/><path transform="translate(30.20 0)" d="M1.1 0 H3.9 L5 1.3 V7.7 L3.9 9 H1.1 L0 7.7 V1.3 Z"/><path transform="translate(37.40 0)" d="M0 9 V3.2 L2.6 0 H4.2 L6.8 3.2 V9 M0 5.2 H6.8"/></g>
<g transform="translate(586.50 374.50) scale(1.0459 0.9667)"><path transform="translate(0.00 0)" d="M0 2 L2.6 0 V9 M0 9 H4.2"/><path transform="translate(6.40 0)" d="M4.8 0 L0.3 4.4 V7.6 L1.7 9 H5.1 L6.5 7.6 V6 L5 4.5 H0.5"/><path transform="translate(15.10 0)" d="M6.3 0 H0.4 V4 H5.1 L6.5 5.4 V7.7 L5.2 9 H0"/><path transform="translate(23.80 0)" d="M1.6 0 H4.9 L5.9 1 V3.3 L4.9 4.3 H1.6 L0.6 3.3 V1 Z M1.1 4.3 H5.3 L6.5 5.5 V7.8 L5.3 9 H1.1 L0 7.8 V5.5 Z"/><path transform="translate(32.50 0)" d="M1.6 0 H4.9 L5.9 1 V3.3 L4.9 4.3 H1.6 L0.6 3.3 V1 Z M1.1 4.3 H5.3 L6.5 5.5 V7.8 L5.3 9 H1.1 L0 7.8 V5.5 Z"/><path transform="translate(41.20 0)" d="M3.25 1.5 V8 M0 4.7 H6.5"/><path transform="translate(49.90 0)" d="M0 9 V3.2 L2.6 0 H4.2 L6.8 3.2 V9 M0 5.2 H6.8"/></g>
<g transform="translate(276.70 325.00) scale(1.0538 0.9667)"><path transform="translate(0.00 0)" d="M0 2 L2.6 0 V9 M0 9 H4.2"/><path transform="translate(6.40 0)" d="M4.8 0 L0.3 4.4 V7.6 L1.7 9 H5.1 L6.5 7.6 V6 L5 4.5 H0.5"/><path transform="translate(15.10 0)" d="M6.3 0 H0.4 V4 H5.1 L6.5 5.4 V7.7 L5.2 9 H0"/><path transform="translate(23.80 0)" d="M4.8 0 L0.3 4.4 V7.6 L1.7 9 H5.1 L6.5 7.6 V6 L5 4.5 H0.5"/><path transform="translate(32.50 0)" d="M1.1 0 H3.9 L5 1.3 V7.7 L3.9 9 H1.1 L0 7.7 V1.3 Z"/><path transform="translate(39.70 0)" d="M0 0 H4.6 L6.8 2.2 V6.8 L4.6 9 H0 M1.8 0 V9"/></g>
<g transform="translate(396.30 349.20) scale(1.0564 0.9667)"><path transform="translate(0.00 0)" d="M0 2 L2.6 0 V9 M0 9 H4.2"/><path transform="translate(6.40 0)" d="M4.8 0 L0.3 4.4 V7.6 L1.7 9 H5.1 L6.5 7.6 V6 L5 4.5 H0.5"/><path transform="translate(15.10 0)" d="M6.3 0 H0.4 V4 H5.1 L6.5 5.4 V7.7 L5.2 9 H0"/><path transform="translate(23.80 0)" d="M6.3 0 H0.4 V4 H5.1 L6.5 5.4 V7.7 L5.2 9 H0"/><path transform="translate(32.50 0)" d="M0 0 H6.5 V1.2 L2 9"/></g>
<g transform="translate(392.30 363.90) scale(1.0210 0.9667)"><path transform="translate(0.00 0)" d="M0 2 L2.6 0 V9 M0 9 H4.2"/><path transform="translate(6.40 0)" d="M4.8 0 L0.3 4.4 V7.6 L1.7 9 H5.1 L6.5 7.6 V6 L5 4.5 H0.5"/><path transform="translate(15.10 0)" d="M6.3 0 H0.4 V4 H5.1 L6.5 5.4 V7.7 L5.2 9 H0"/><path transform="translate(23.80 0)" d="M0 0 H6.5 V1.2 L2 9"/><path transform="translate(32.50 0)" d="M4.8 0 L0.3 4.4 V7.6 L1.7 9 H5.1 L6.5 7.6 V6 L5 4.5 H0.5"/><path transform="translate(41.20 0)" d="M6.5 0 H0 V9 H6.5 M0 4.3 H5"/></g>
<g transform="translate(228.00 392.50) scale(1.0505 0.9667)"><path transform="translate(0.00 0)" d="M0 2 L2.6 0 V9 M0 9 H4.2"/><path transform="translate(6.40 0)" d="M4.8 0 L0.3 4.4 V7.6 L1.7 9 H5.1 L6.5 7.6 V6 L5 4.5 H0.5"/><path transform="translate(15.10 0)" d="M6.3 0 H0.4 V4 H5.1 L6.5 5.4 V7.7 L5.2 9 H0"/><path transform="translate(23.80 0)" d="M1.6 0 H4.9 L5.9 1 V3.3 L4.9 4.3 H1.6 L0.6 3.3 V1 Z M1.1 4.3 H5.3 L6.5 5.5 V7.8 L5.3 9 H1.1 L0 7.8 V5.5 Z"/><path transform="translate(32.50 0)" d="M1.1 0 H3.9 L5 1.3 V7.7 L3.9 9 H1.1 L0 7.7 V1.3 Z"/><path transform="translate(39.70 0)" d="M0 9 V0 H5.4 L6.8 1.4 V3.2 L5.4 4.6 H0 M3.4 4.6 L6.8 9"/><path transform="translate(48.70 0)" d="M0 0 H5.1 L6.1 1 V3.3 L5.1 4.3 H1.6 M1.6 4.3 H5.6 L6.8 5.5 V7.8 L5.6 9 H0 M1.6 0 V9"/></g>
<g transform="translate(580.10 415.30) scale(1.1000 0.9667)"><path transform="translate(0.00 0)" d="M0 2 L2.6 0 V9 M0 9 H4.2"/><path transform="translate(6.40 0)" d="M4.8 0 L0.3 4.4 V7.6 L1.7 9 H5.1 L6.5 7.6 V6 L5 4.5 H0.5"/><path transform="translate(15.10 0)" d="M6.3 0 H0.4 V4 H5.1 L6.5 5.4 V7.7 L5.2 9 H0"/><path transform="translate(23.80 0)" d="M6.3 0 H0.4 V4 H5.1 L6.5 5.4 V7.7 L5.2 9 H0"/><path transform="translate(32.50 0)" d="M0 0 H6.5 V1.2 L2 9"/></g>
<g transform="translate(578.70 431.10) scale(1.0776 0.9667)"><path transform="translate(0.00 0)" d="M0 2 L2.6 0 V9 M0 9 H4.2"/><path transform="translate(6.40 0)" d="M4.8 0 L0.3 4.4 V7.6 L1.7 9 H5.1 L6.5 7.6 V6 L5 4.5 H0.5"/><path transform="translate(15.10 0)" d="M6.3 0 H0.4 V4 H5.1 L6.5 5.4 V7.7 L5.2 9 H0"/><path transform="translate(23.80 0)" d="M0 0 H6.5 V1.2 L2 9"/><path transform="translate(32.50 0)" d="M4.8 0 L0.3 4.4 V7.6 L1.7 9 H5.1 L6.5 7.6 V6 L5 4.5 H0.5"/><path transform="translate(41.20 0)" d="M6.5 0 H0 V9 H6.5 M0 4.3 H5"/></g>
<g transform="translate(673.50 458.80) scale(1.0703 0.9667)"><path transform="translate(0.00 0)" d="M0 2 L2.6 0 V9 M0 9 H4.2"/><path transform="translate(6.40 0)" d="M4.8 0 L0.3 4.4 V7.6 L1.7 9 H5.1 L6.5 7.6 V6 L5 4.5 H0.5"/><path transform="translate(15.10 0)" d="M6.3 0 H0.4 V4 H5.1 L6.5 5.4 V7.7 L5.2 9 H0"/><path transform="translate(23.80 0)" d="M1.6 0 H4.9 L5.9 1 V3.3 L4.9 4.3 H1.6 L0.6 3.3 V1 Z M1.1 4.3 H5.3 L6.5 5.5 V7.8 L5.3 9 H1.1 L0 7.8 V5.5 Z"/><path transform="translate(32.50 0)" d="M1.1 0 H3.9 L5 1.3 V7.7 L3.9 9 H1.1 L0 7.7 V1.3 Z"/><path transform="translate(39.70 0)" d="M0 9 V0 H5.4 L6.8 1.4 V3.2 L5.4 4.6 H0 M3.4 4.6 L6.8 9"/><path transform="translate(48.70 0)" d="M0 9 V3.2 L2.6 0 H4.2 L6.8 3.2 V9 M0 5.2 H6.8"/></g>
<g transform="translate(281.70 465.60) scale(1.0437 0.9667)"><path transform="translate(0.00 0)" d="M0 2 L2.6 0 V9 M0 9 H4.2"/><path transform="translate(6.40 0)" d="M4.8 0 L0.3 4.4 V7.6 L1.7 9 H5.1 L6.5 7.6 V6 L5 4.5 H0.5"/><path transform="translate(15.10 0)" d="M6.3 0 H0.4 V4 H5.1 L6.5 5.4 V7.7 L5.2 9 H0"/><path transform="translate(23.80 0)" d="M6.3 0 H0.4 V4 H5.1 L6.5 5.4 V7.7 L5.2 9 H0"/><path transform="translate(32.50 0)" d="M0 0 H6.5 V1.2 L2 9"/><path transform="translate(41.20 0)" d="M0 0 V9 M6.8 0 V9 M0 4.5 H6.8"/></g>
<g transform="translate(409.10 480.60) scale(1.0521 0.9667)"><path transform="translate(0.00 0)" d="M0 2 L2.6 0 V9 M0 9 H4.2"/><path transform="translate(6.40 0)" d="M4.8 0 L0.3 4.4 V7.6 L1.7 9 H5.1 L6.5 7.6 V6 L5 4.5 H0.5"/><path transform="translate(15.10 0)" d="M6.3 0 H0.4 V4 H5.1 L6.5 5.4 V7.7 L5.2 9 H0"/><path transform="translate(23.80 0)" d="M6.3 0 H0.4 V4 H5.1 L6.5 5.4 V7.7 L5.2 9 H0"/><path transform="translate(32.50 0)" d="M0 0 H6.5 V1.2 L2 9"/><path transform="translate(41.20 0)" d="M0 0 V9 M6.8 0 V9 M0 4.5 H6.8"/></g>
<g transform="translate(580.70 537.30) scale(1.0339 0.9667)"><path transform="translate(0.00 0)" d="M0 2 L2.6 0 V9 M0 9 H4.2"/><path transform="translate(6.40 0)" d="M4.8 0 L0.3 4.4 V7.6 L1.7 9 H5.1 L6.5 7.6 V6 L5 4.5 H0.5"/><path transform="translate(15.10 0)" d="M6.3 0 H0.4 V4 H5.1 L6.5 5.4 V7.7 L5.2 9 H0"/><path transform="translate(23.80 0)" d="M0 2 L2.6 0 V9 M0 9 H4.2"/><path transform="translate(30.20 0)" d="M1.1 0 H3.9 L5 1.3 V7.7 L3.9 9 H1.1 L0 7.7 V1.3 Z"/><path transform="translate(37.40 0)" d="M0 0 H4.6 L6.8 2.2 V6.8 L4.6 9 H0 M1.8 0 V9"/></g>
<g transform="translate(934.20 532.40) scale(1.3237 1.1111)"><path transform="translate(0.00 0)" d="M0 9 V0 H5.4 L6.8 1.4 V3.2 L5.4 4.6 H0 M3.4 4.6 L6.8 9"/><path transform="translate(9.00 0)" d="M0 2 L2.6 0 V9 M0 9 H4.2"/><path transform="translate(15.40 0)" d="M4.8 0 L0.3 4.4 V7.6 L1.7 9 H5.1 L6.5 7.6 V6 L5 4.5 H0.5"/><path transform="translate(24.10 0)" d="M6.3 0 H0.4 V4 H5.1 L6.5 5.4 V7.7 L5.2 9 H0"/><path transform="translate(32.80 0)" d="M1.1 0 H3.9 L5 1.3 V7.7 L3.9 9 H1.1 L0 7.7 V1.3 Z"/><path transform="translate(40.00 0)" d="M1.1 0 H3.9 L5 1.3 V7.7 L3.9 9 H1.1 L0 7.7 V1.3 Z"/><path transform="translate(47.20 0)" d="M1.6 0 H4.9 L5.9 1 V3.3 L4.9 4.3 H1.6 L0.6 3.3 V1 Z M1.1 4.3 H5.3 L6.5 5.5 V7.8 L5.3 9 H1.1 L0 7.8 V5.5 Z"/><path transform="translate(55.90 0)" d="M0 0 H6.3 L2.8 4 H5 L6.5 5.5 V7.7 L5.2 9 H1.2 L0 7.8"/></g>
<g transform="translate(711.10 59.80) scale(1.0395 0.9667)"><path transform="translate(0.00 0)" d="M3.4 -0.5 L1 2.2 V7.2 L3.4 9.8"/><path transform="translate(5.60 0)" d="M0 2 L1.6 0 H4.9 L6.5 1.6 V3.2 L0 9 H6.5"/><path transform="translate(14.30 0)" d="M0 -0.5 L2.4 2.2 V7.2 L0 9.8"/></g>
</g>
</svg>
<div id="hl"></div>
<div id="bar"></div>
<svg width="1024" height="656" viewBox="0 0 1024 656">
<g font-family="Liberation Sans, sans-serif" font-size="42" fill="#fff" stroke="#fff" stroke-width="0.5">
<text transform="translate(114.68 624.00) scale(0.907 1.000)">NISSAN</text>
<text transform="translate(275.42 624.00) scale(0.921 1.000)">INFINITI</text>
<text transform="translate(430.64 623.50) scale(0.980 1.000)">-</text>
<text transform="translate(455.22 624.00) scale(0.927 1.000)">165466CA0B</text>
<text transform="translate(736.99 624.00) scale(0.938 1.000)">N</text>
<text transform="translate(773.84 623.50) scale(0.980 1.000)">-</text>
<text transform="translate(797.13 624.00) scale(0.958 1.000)">16546</text>
</g>
</svg>
</body></html>
